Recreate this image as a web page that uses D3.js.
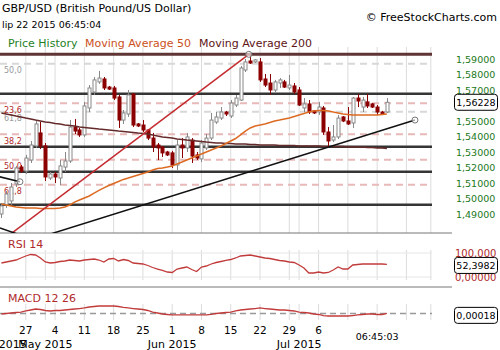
<!DOCTYPE html>
<html>
<head>
<meta charset="utf-8">
<script src="https://cdn.jsdelivr.net/npm/d3@7"></script>
<style>
  body { margin: 0; background: #fff; }
  svg text { font-family: "DejaVu Sans", Verdana, sans-serif; }
</style>
</head>
<body>
<div id="chart"></div>
<script>
// daily bars, GBP/USD, Apr 21 - Jul 22 2015 (index 0 = first bar on screen)
const opens = [1.4902,1.4960,1.4986,1.5096,1.5205,1.5179,1.5250,1.5341,1.5425,1.5341,
  1.5134,1.5160,1.5134,1.5205,1.5244,1.5463,1.5444,1.5412,1.5586,1.5689,
  1.5754,1.5773,1.5721,1.5715,1.5657,1.5508,1.5547,1.5676,1.5483,1.5476,
  1.5444,1.5392,1.5347,1.5334,1.5302,1.5296,1.5218,1.5347,1.5328,1.5379,
  1.5283,1.5257,1.5328,1.5392,1.5495,1.5521,1.5560,1.5534,1.5605,1.5637,
  1.5831,1.5889,1.5883,1.5883,1.5773,1.5747,1.5702,1.5747,1.5754,1.5715,
  1.5728,1.5702,1.5586,1.5612,1.5567,1.5560,1.5586,1.5431,1.5379,1.5399,
  1.5528,1.5502,1.5489,1.5650,1.5592,1.5625,1.5612,1.5592,1.5560,1.5560];
const highs = [1.4973,1.5050,1.5102,1.5212,1.5218,1.5283,1.5373,1.5502,1.5496,1.5360,
  1.5173,1.5173,1.5250,1.5302,1.5508,1.5515,1.5457,1.5625,1.5734,1.5786,
  1.5825,1.5786,1.5728,1.5728,1.5670,1.5573,1.5702,1.5683,1.5489,1.5508,
  1.5450,1.5425,1.5360,1.5341,1.5309,1.5309,1.5379,1.5392,1.5425,1.5392,
  1.5302,1.5379,1.5418,1.5554,1.5560,1.5592,1.5567,1.5637,1.5670,1.5857,
  1.5902,1.5932,1.5902,1.5908,1.5805,1.5805,1.5767,1.5779,1.5767,1.5799,
  1.5747,1.5721,1.5650,1.5637,1.5573,1.5625,1.5599,1.5463,1.5476,1.5541,
  1.5534,1.5592,1.5657,1.5676,1.5657,1.5676,1.5618,1.5605,1.5567,1.5650];
const lows = [1.4876,1.4941,1.4960,1.5076,1.5167,1.5160,1.5231,1.5328,1.5321,1.5115,
  1.5121,1.5102,1.5089,1.5173,1.5231,1.5418,1.5399,1.5399,1.5560,1.5670,
  1.5741,1.5702,1.5702,1.5637,1.5457,1.5483,1.5528,1.5463,1.5463,1.5431,
  1.5379,1.5302,1.5250,1.5270,1.5276,1.5199,1.5186,1.5263,1.5302,1.5231,
  1.5250,1.5237,1.5315,1.5379,1.5483,1.5508,1.5534,1.5521,1.5592,1.5631,
  1.5818,1.5870,1.5876,1.5754,1.5721,1.5670,1.5689,1.5715,1.5715,1.5702,
  1.5676,1.5599,1.5560,1.5547,1.5547,1.5541,1.5412,1.5334,1.5366,1.5386,
  1.5495,1.5476,1.5457,1.5592,1.5560,1.5586,1.5586,1.5541,1.5541,1.5554];
const closes = [1.4954,1.5031,1.5076,1.5199,1.5179,1.5263,1.5347,1.5483,1.5341,1.5141,
  1.5160,1.5141,1.5212,1.5244,1.5463,1.5437,1.5412,1.5599,1.5715,1.5767,
  1.5779,1.5715,1.5708,1.5650,1.5508,1.5554,1.5670,1.5476,1.5470,1.5444,
  1.5392,1.5334,1.5328,1.5296,1.5283,1.5218,1.5347,1.5328,1.5399,1.5276,
  1.5263,1.5360,1.5392,1.5508,1.5528,1.5560,1.5547,1.5618,1.5650,1.5844,
  1.5883,1.5876,1.5896,1.5767,1.5734,1.5702,1.5754,1.5767,1.5721,1.5734,
  1.5689,1.5605,1.5612,1.5560,1.5554,1.5592,1.5431,1.5373,1.5399,1.5521,
  1.5502,1.5483,1.5650,1.5631,1.5637,1.5599,1.5592,1.5560,1.5547,1.56228];

const ma50 = [1.4966,1.4960,1.4954,1.4947,1.4944,1.4941,1.4941,1.4941,1.4938,1.4938,
  1.4938,1.4938,1.4941,1.4947,1.4960,1.4979,1.4992,1.5005,1.5018,1.5037,
  1.5054,1.5070,1.5086,1.5099,1.5112,1.5125,1.5134,1.5144,1.5154,1.5163,
  1.5173,1.5186,1.5195,1.5199,1.5205,1.5212,1.5225,1.5237,1.5250,1.5263,
  1.5276,1.5289,1.5302,1.5315,1.5328,1.5341,1.5357,1.5373,1.5389,1.5412,
  1.5437,1.5457,1.5470,1.5476,1.5483,1.5492,1.5502,1.5508,1.5515,1.5521,
  1.5531,1.5541,1.5550,1.5560,1.5567,1.5570,1.5570,1.5567,1.5560,1.5554,
  1.5547,1.5544,1.5541,1.5541,1.5541,1.5541,1.5541,1.5541,1.5544,1.5547];
const ma200 = [1.5554,1.5547,1.5541,1.5534,1.5528,1.5521,1.5515,1.5508,1.5502,1.5496,
  1.5492,1.5486,1.5483,1.5476,1.5473,1.5470,1.5463,1.5460,1.5457,1.5454,
  1.5450,1.5447,1.5444,1.5441,1.5437,1.5434,1.5431,1.5428,1.5424,1.5421,
  1.5418,1.5412,1.5405,1.5399,1.5396,1.5392,1.5386,1.5383,1.5379,1.5376,
  1.5373,1.5370,1.5366,1.5363,1.5360,1.5360,1.5357,1.5357,1.5354,1.5354,
  1.5354,1.5350,1.5350,1.5347,1.5347,1.5347,1.5347,1.5344,1.5344,1.5344,
  1.5344,1.5341,1.5341,1.5341,1.5341,1.5341,1.5338,1.5338,1.5338,1.5338,
  1.5338,1.5334,1.5334,1.5334,1.5334,1.5331,1.5331,1.5328,1.5328,1.5325];

const rsi = [58.3,62.5,66.7,70.8,79.2,87.5,93.8,91.7,79.2,62.5,
  58.3,60.4,64.6,66.7,70.8,68.8,66.7,70.8,72.9,75.0,
  70.8,62.5,75.0,77.1,66.7,72.9,68.8,58.3,56.3,54.2,
  47.9,39.6,33.3,27.1,20.8,18.8,33.3,37.5,41.7,31.3,
  22.9,41.7,45.8,54.2,60.4,64.6,68.8,72.9,79.2,87.5,
  89.6,91.7,87.5,83.3,79.2,77.1,72.9,68.8,66.7,62.5,
  60.4,50.0,37.5,16.7,16.7,20.8,16.7,18.8,29.2,41.7,
  33.3,33.3,50.0,52.1,54.2,54.2,54.2,54.2,54.2,52.3982];
const macd = [-0.0007,0.0000,0.0007,0.0014,0.0021,0.0036,0.0050,0.0064,0.0057,0.0043,
  0.0036,0.0043,0.0043,0.0050,0.0057,0.0064,0.0071,0.0079,0.0093,0.0100,
  0.0107,0.0107,0.0107,0.0107,0.0100,0.0086,0.0079,0.0071,0.0064,0.0057,
  0.0043,0.0021,0.0007,-0.0007,-0.0014,-0.0021,-0.0021,-0.0021,-0.0021,-0.0021,
  -0.0021,-0.0021,-0.0021,-0.0014,0.0000,0.0007,0.0014,0.0021,0.0036,0.0050,
  0.0057,0.0064,0.0071,0.0079,0.0071,0.0064,0.0057,0.0050,0.0050,0.0043,
  0.0036,0.0021,0.0014,0.0007,-0.0007,-0.0014,-0.0029,-0.0036,-0.0036,-0.0036,
  -0.0036,-0.0036,-0.0029,-0.0021,-0.0014,-0.0007,-0.0007,-0.0014,-0.0014,0.00018];

// fibonacci levels + drawn trendlines
const fibSolid = [1.5678, 1.5336, 1.5175, 1.4962];
const fibTop = 1.5932;
const fibRed = [[1.5616, "23,6"], [1.5416, "38,2"], [1.5252, "50,0"], [1.5091, "61,8"]];
const fibGrey = [[1.5872, "50,0"], [1.5562, "61,8"]];
const trendLines = [
  { a: [0, 1.4728], b: [50.7, 1.5932], color: "#c42a2f", dot: true },
  { a: [0, 1.4674], b: [84.75, 1.5508], color: "#111", dot: true },
  { a: [-1, 1.5147], b: [3.8, 1.5110], color: "#111", dot: true },
  { a: [-0.3, 1.4812], b: [4, 1.4765], color: "#111", dot: false }
];

// 1,56000 sits behind the last-price box, so it is not listed
const priceTicks = [1.59, 1.58, 1.57, 1.55, 1.54, 1.53, 1.52, 1.51, 1.50, 1.49];
const weekTicks = [5, 11, 17, 23, 29, 35, 41, 47, 53, 59, 65, 71, 77, 83];
const monthTicks = [9, 61, 88];
const dayLabels = [[5, "27"], [11, "4"], [17, "11"], [23, "18"], [29, "25"], [35, "1"],
  [41, "8"], [47, "15"], [53, "22"], [59, "29"], [65, "6"]];
const monthLabels = [[0, "Apr 2015"], [9, "May 2015"], [35, "Jun 2015"], [61, "Jul 2015"]];

const width = 500;
const height = 350;
const plotRight = 432;
const axisRight = 452;
const fmt = (v, d) => v.toFixed(d).replace(".", ",");

const svg = d3.select("#chart").append("svg")
  .attr("width", width).attr("height", height);

const x = d3.scaleLinear().domain([0, 79]).range([1.4, 386.9]);
const y = d3.scaleLinear().domain([1.49, 1.59]).range([214.3, 59.3]);
const yRsi = d3.scaleLinear().domain([0, 100]).range([277, 253]);
const yMacd = d3.scaleLinear().domain([-0.006, 0.014]).range([317.7, 303.7]);

// header
svg.append("text").attr("x", 2).attr("y", 8).attr("dy", "0.35em")
  .attr("font-size", 11).text("GBP/USD (British Pound/US Dollar)");
svg.append("text").attr("x", 2).attr("y", 25).attr("dy", "0.35em")
  .attr("font-size", 9.5).text("lip 22 2015 06:45:04");
svg.append("text").attr("x", 497).attr("y", 17).attr("dy", "0.35em")
  .attr("text-anchor", "end").attr("font-size", 11).text("© FreeStockCharts.com");

const legend = [[8, "Price History", "#1f7f1f"], [85, "Moving Average 50", "#cc4f1a"],
  [199, "Moving Average 200", "#5c1414"]];
svg.selectAll(".legend").data(legend).join("text")
  .attr("x", d => d[0]).attr("y", 43).attr("dy", "0.35em")
  .attr("font-size", 11).attr("fill", d => d[2]).text(d => d[1]);

// vertical grid in all three panels
const panels = [[47, 233], [250, 280], [304, 320]];
panels.forEach(p => {
  svg.append("g").selectAll("line").data(weekTicks.concat(monthTicks)).join("line")
    .attr("x1", d => x(d)).attr("x2", d => x(d))
    .attr("y1", p[0]).attr("y2", p[1])
    .attr("stroke", "#dcdcdc").attr("stroke-width", 1);
});

// panel borders
[233, 287].forEach(v => {
  svg.append("line").attr("x1", 0).attr("x2", axisRight).attr("y1", v).attr("y2", v)
    .attr("stroke", "#777").attr("stroke-width", 1);
});

// main plot
svg.append("clipPath").attr("id", "clip").append("rect")
  .attr("x", 0).attr("y", 47).attr("width", plotRight).attr("height", 186);
const main = svg.append("g").attr("clip-path", "url(#clip)");

main.append("g").selectAll("line").data(fibRed).join("line")
  .attr("x1", 0).attr("x2", plotRight).attr("y1", d => y(d[0])).attr("y2", d => y(d[0]))
  .attr("stroke", "#e8b9b9").attr("stroke-width", 2).attr("stroke-dasharray", "7,5");
main.append("g").selectAll("line").data(fibGrey).join("line")
  .attr("x1", 0).attr("x2", plotRight).attr("y1", d => y(d[0])).attr("y2", d => y(d[0]))
  .attr("stroke", "#d8d8d8").attr("stroke-width", 2).attr("stroke-dasharray", "7,5");
main.append("g").selectAll("line").data(fibSolid).join("line")
  .attr("x1", 0).attr("x2", plotRight).attr("y1", d => y(d)).attr("y2", d => y(d))
  .attr("stroke", "#353535").attr("stroke-width", 2.5);
main.append("line").attr("x1", 0).attr("x2", plotRight)
  .attr("y1", y(fibTop)).attr("y2", y(fibTop))
  .attr("stroke", "#5e3434").attr("stroke-width", 3);

main.append("g").selectAll("text").data(fibRed).join("text")
  .attr("x", 4).attr("y", d => y(d[0]) + 6.5).attr("dy", "0.35em")
  .attr("font-size", 8).attr("fill", "#b22a2a").text(d => d[1]);
main.append("g").selectAll("text").data(fibGrey).join("text")
  .attr("x", 4).attr("y", d => y(d[0]) + 6.5).attr("dy", "0.35em")
  .attr("font-size", 8).attr("fill", "#999").text(d => d[1]);

// candles
const bars = d3.range(opens.length).map(i =>
  ({ i, o: opens[i], h: highs[i], l: lows[i], c: closes[i], up: closes[i] >= opens[i] }));
const candle = main.append("g").selectAll("g").data(bars).join("g");
candle.append("line")
  .attr("x1", d => Math.round(x(d.i)) + 0.5).attr("x2", d => Math.round(x(d.i)) + 0.5)
  .attr("y1", d => y(d.h)).attr("y2", d => y(d.l))
  .attr("stroke", d => d.up ? "#888" : "#8b0000");
candle.append("rect")
  .attr("x", d => Math.round(x(d.i)) - 1)
  .attr("width", 3)
  .attr("y", d => y(Math.max(d.o, d.c)))
  .attr("height", d => Math.max(1, Math.abs(y(d.o) - y(d.c))))
  .attr("fill", d => d.up ? "#fff" : "#8b0000")
  .attr("stroke", d => d.up ? "#888" : "#8b0000")
  .attr("stroke-width", 1);

// moving averages
main.append("path").datum(ma200)
  .attr("d", d3.line().x((d, i) => x(i)).y(d => y(d)))
  .attr("fill", "none").attr("stroke", "#652a2a").attr("stroke-width", 1.5);
main.append("path").datum(ma50)
  .attr("d", d3.line().x((d, i) => x(i)).y(d => y(d)))
  .attr("fill", "none").attr("stroke", "#dc6a22").attr("stroke-width", 1.5);

// trendlines
trendLines.forEach(t => {
  main.append("line")
    .attr("x1", x(t.a[0])).attr("y1", y(t.a[1]))
    .attr("x2", x(t.b[0])).attr("y2", y(t.b[1]))
    .attr("stroke", t.color).attr("stroke-width", 1.5);
  if (t.dot) {
    main.append("circle").attr("cx", x(t.b[0])).attr("cy", y(t.b[1])).attr("r", 3)
      .attr("fill", "#fff").attr("fill-opacity", 0.6)
      .attr("stroke", "#777").attr("stroke-width", 1);
  }
});

// price axis
svg.append("g").selectAll("text").data(priceTicks).join("text")
  .attr("x", 456).attr("y", d => y(d)).attr("dy", "0.35em")
  .attr("font-size", 9.5).attr("fill", "#217821").text(d => fmt(d, 5));

function valueBox(v, yy, label) {
  svg.append("rect").attr("x", 454.5).attr("y", yy - 8).attr("width", 43).attr("height", 16)
    .attr("rx", 3).attr("fill", "#fff").attr("stroke", "#000").attr("stroke-width", 1);
  svg.append("text").attr("x", 476).attr("y", yy).attr("dy", "0.35em")
    .attr("text-anchor", "middle").attr("font-size", 9.5).text(label);
}
valueBox(closes[79], y(closes[79]), fmt(closes[79], 5));

// RSI
svg.append("text").attr("x", 8).attr("y", 244).attr("dy", "0.35em")
  .attr("font-size", 11).attr("fill", "#b02a2a").text("RSI 14");
[0, 100].forEach(v => {
  svg.append("line").attr("x1", 0).attr("x2", plotRight).attr("y1", yRsi(v)).attr("y2", yRsi(v))
    .attr("stroke", "#e6e6e6");
});
svg.append("path").datum(rsi)
  .attr("d", d3.line().x((d, i) => x(i)).y(d => yRsi(d)))
  .attr("fill", "none").attr("stroke", "#c23b3b").attr("stroke-width", 1.3);
svg.append("text").attr("x", 455).attr("y", yRsi(100)).attr("dy", "0.35em")
  .attr("font-size", 10).attr("fill", "#b02a2a").text("100,000");
svg.append("text").attr("x", 455).attr("y", yRsi(0)).attr("dy", "0.35em")
  .attr("font-size", 10).attr("fill", "#b02a2a").text("0,00000");
valueBox(rsi[79], yRsi(rsi[79]) + 1, fmt(rsi[79], 4));

// MACD
svg.append("text").attr("x", 8).attr("y", 298).attr("dy", "0.35em")
  .attr("font-size", 11).attr("fill", "#b02a2a").text("MACD 12 26");
svg.append("line").attr("x1", 0).attr("x2", plotRight).attr("y1", yMacd(0)).attr("y2", yMacd(0))
  .attr("stroke", "#999").attr("stroke-width", 1.5).attr("stroke-dasharray", "6,4");
svg.append("path").datum(macd)
  .attr("d", d3.line().x((d, i) => x(i)).y(d => yMacd(d)))
  .attr("fill", "none").attr("stroke", "#c23b3b").attr("stroke-width", 1.3);
valueBox(macd[79], yMacd(macd[79]) + 2, fmt(macd[79], 5));

// time axis
svg.append("g").selectAll("text").data(dayLabels).join("text")
  .attr("x", d => x(d[0])).attr("y", 330).attr("dy", "0.35em")
  .attr("text-anchor", "middle").attr("font-size", 10.5).text(d => d[1]);
svg.append("g").selectAll("text").data(monthLabels).join("text")
  .attr("x", d => x(d[0])).attr("y", 344).attr("dy", "0.35em")
  .attr("text-anchor", "middle").attr("font-size", 11).text(d => d[1]);
svg.append("text").attr("x", x(77)).attr("y", 337).attr("dy", "0.35em")
  .attr("text-anchor", "middle").attr("font-size", 9.5).text("06:45:03");
</script>
</body>
</html>
